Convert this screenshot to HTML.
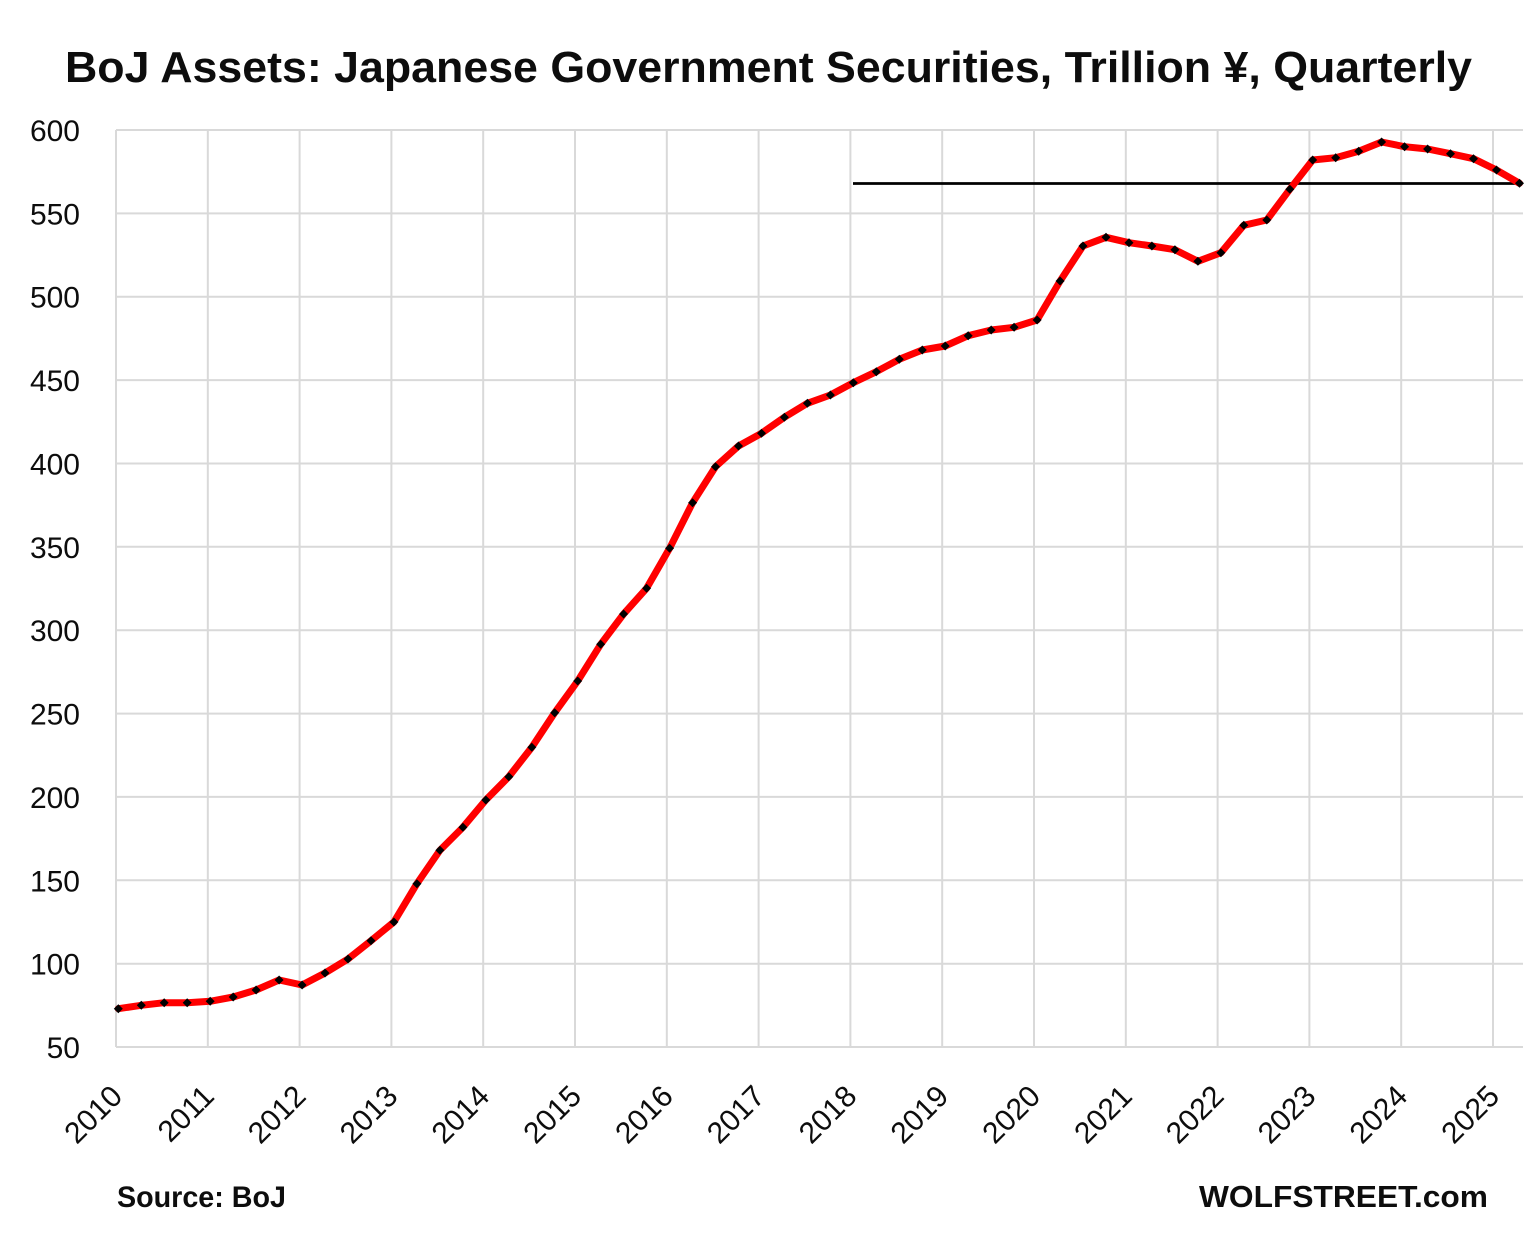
<!DOCTYPE html>
<html>
<head>
<meta charset="utf-8">
<style>
  html,body{margin:0;padding:0;background:#fff;}
  svg{display:block;}
  text{font-family:"Liberation Sans",sans-serif;fill:#0d0d0d;}
</style>
</head>
<body>
<svg width="1536" height="1237" viewBox="0 0 1536 1237" xmlns="http://www.w3.org/2000/svg">
  <defs>
    <marker id="dm" markerUnits="userSpaceOnUse" markerWidth="12" markerHeight="12" refX="6" refY="6" viewBox="0 0 12 12">
      <path d="M6 1.5 L10.5 6 L6 10.5 L1.5 6 Z" fill="#000"/>
    </marker>
  </defs>
  <rect width="1536" height="1237" fill="#fff"/>

  <!-- Title -->
  <text x="65" y="82" font-size="44" font-weight="bold" textLength="1407" lengthAdjust="spacingAndGlyphs">BoJ Assets: Japanese Government Securities, Trillion ¥, Quarterly</text>

  <!-- horizontal gridlines -->
  <g stroke="#d9d9d9" stroke-width="2">
    <line x1="116" y1="130" x2="1523" y2="130"/>
    <line x1="116" y1="213.4" x2="1523" y2="213.4"/>
    <line x1="116" y1="296.7" x2="1523" y2="296.7"/>
    <line x1="116" y1="380.1" x2="1523" y2="380.1"/>
    <line x1="116" y1="463.5" x2="1523" y2="463.5"/>
    <line x1="116" y1="546.8" x2="1523" y2="546.8"/>
    <line x1="116" y1="630.2" x2="1523" y2="630.2"/>
    <line x1="116" y1="713.6" x2="1523" y2="713.6"/>
    <line x1="116" y1="796.9" x2="1523" y2="796.9"/>
    <line x1="116" y1="880.3" x2="1523" y2="880.3"/>
    <line x1="116" y1="963.7" x2="1523" y2="963.7"/>
    <line x1="116" y1="1047" x2="1523" y2="1047"/>
  </g>
  <!-- vertical gridlines -->
  <g stroke="#d9d9d9" stroke-width="2">
    <line x1="116" y1="130" x2="116" y2="1047"/>
    <line x1="207.8" y1="130" x2="207.8" y2="1047"/>
    <line x1="299.6" y1="130" x2="299.6" y2="1047"/>
    <line x1="391.4" y1="130" x2="391.4" y2="1047"/>
    <line x1="483.2" y1="130" x2="483.2" y2="1047"/>
    <line x1="575" y1="130" x2="575" y2="1047"/>
    <line x1="666.8" y1="130" x2="666.8" y2="1047"/>
    <line x1="758.6" y1="130" x2="758.6" y2="1047"/>
    <line x1="850.4" y1="130" x2="850.4" y2="1047"/>
    <line x1="942.2" y1="130" x2="942.2" y2="1047"/>
    <line x1="1034" y1="130" x2="1034" y2="1047"/>
    <line x1="1125.8" y1="130" x2="1125.8" y2="1047"/>
    <line x1="1217.6" y1="130" x2="1217.6" y2="1047"/>
    <line x1="1309.4" y1="130" x2="1309.4" y2="1047"/>
    <line x1="1401.2" y1="130" x2="1401.2" y2="1047"/>
    <line x1="1493" y1="130" x2="1493" y2="1047"/>
  </g>

  <!-- Y labels -->
  <g font-size="30" text-anchor="end">
    <text x="80" y="141">600</text>
    <text x="80" y="224.4">550</text>
    <text x="80" y="307.7">500</text>
    <text x="80" y="391.1">450</text>
    <text x="80" y="474.5">400</text>
    <text x="80" y="557.8">350</text>
    <text x="80" y="641.2">300</text>
    <text x="80" y="724.6">250</text>
    <text x="80" y="807.9">200</text>
    <text x="80" y="891.3">150</text>
    <text x="80" y="974.7">100</text>
    <text x="80" y="1058">50</text>
  </g>

  <!-- X labels -->
  <g font-size="30" text-anchor="end">
    <text transform="translate(124,1098) rotate(-45)">2010</text>
    <text transform="translate(215.8,1098) rotate(-45)">2011</text>
    <text transform="translate(307.6,1098) rotate(-45)">2012</text>
    <text transform="translate(399.4,1098) rotate(-45)">2013</text>
    <text transform="translate(491.2,1098) rotate(-45)">2014</text>
    <text transform="translate(583,1098) rotate(-45)">2015</text>
    <text transform="translate(674.8,1098) rotate(-45)">2016</text>
    <text transform="translate(766.6,1098) rotate(-45)">2017</text>
    <text transform="translate(858.4,1098) rotate(-45)">2018</text>
    <text transform="translate(950.2,1098) rotate(-45)">2019</text>
    <text transform="translate(1042,1098) rotate(-45)">2020</text>
    <text transform="translate(1133.8,1098) rotate(-45)">2021</text>
    <text transform="translate(1225.6,1098) rotate(-45)">2022</text>
    <text transform="translate(1317.4,1098) rotate(-45)">2023</text>
    <text transform="translate(1409.2,1098) rotate(-45)">2024</text>
    <text transform="translate(1501,1098) rotate(-45)">2025</text>
  </g>

  <!-- reference line -->
  <line x1="853" y1="183.5" x2="1522" y2="183.5" stroke="#000" stroke-width="2.7"/>

  <!-- data series -->
  <polyline fill="none" stroke="#ff0000" stroke-width="7" stroke-linejoin="round" stroke-linecap="round"
    marker-start="url(#dm)" marker-mid="url(#dm)" marker-end="url(#dm)"
    points="118.3,1008.7 141.3,1005.3 164.2,1002.7 187.2,1002.7 210.2,1001.3 233.2,997 256.1,990 279.1,980 302.1,985 325,973 348,959 371,940.7 393.9,922 416.9,883.7 439.9,850.3 462.9,827.3 485.8,800 508.8,776.7 531.8,747.3 554.7,712.7 577.7,681 600.7,644.3 623.6,614 646.6,588.3 669.6,548.3 692.6,502.7 715.5,466.7 738.5,446 761.5,433.3 784.4,417.3 807.4,403.3 830.4,395 853.3,382.7 876.3,371.7 899.3,359.3 922.3,350 945.2,346 968.2,335.7 991.2,330 1014.1,327.3 1037.1,320 1060.1,281 1083,246 1106,237.3 1129,242.7 1151.9,246 1174.9,249.7 1197.9,261.3 1220.9,252.7 1243.8,225.3 1266.8,220 1289.8,189.3 1312.7,160 1335.7,157.7 1358.7,151.3 1381.6,142 1404.6,146.7 1427.6,149 1450.5,153.7 1473.5,158.7 1496.5,170 1519.5,183.3"/>

  <!-- footer -->
  <text x="117" y="1207" font-size="30" font-weight="bold" textLength="169" lengthAdjust="spacingAndGlyphs">Source: BoJ</text>
  <text x="1199" y="1207" font-size="31" font-weight="bold" textLength="289" lengthAdjust="spacingAndGlyphs">WOLFSTREET.com</text>
</svg>
</body>
</html>
